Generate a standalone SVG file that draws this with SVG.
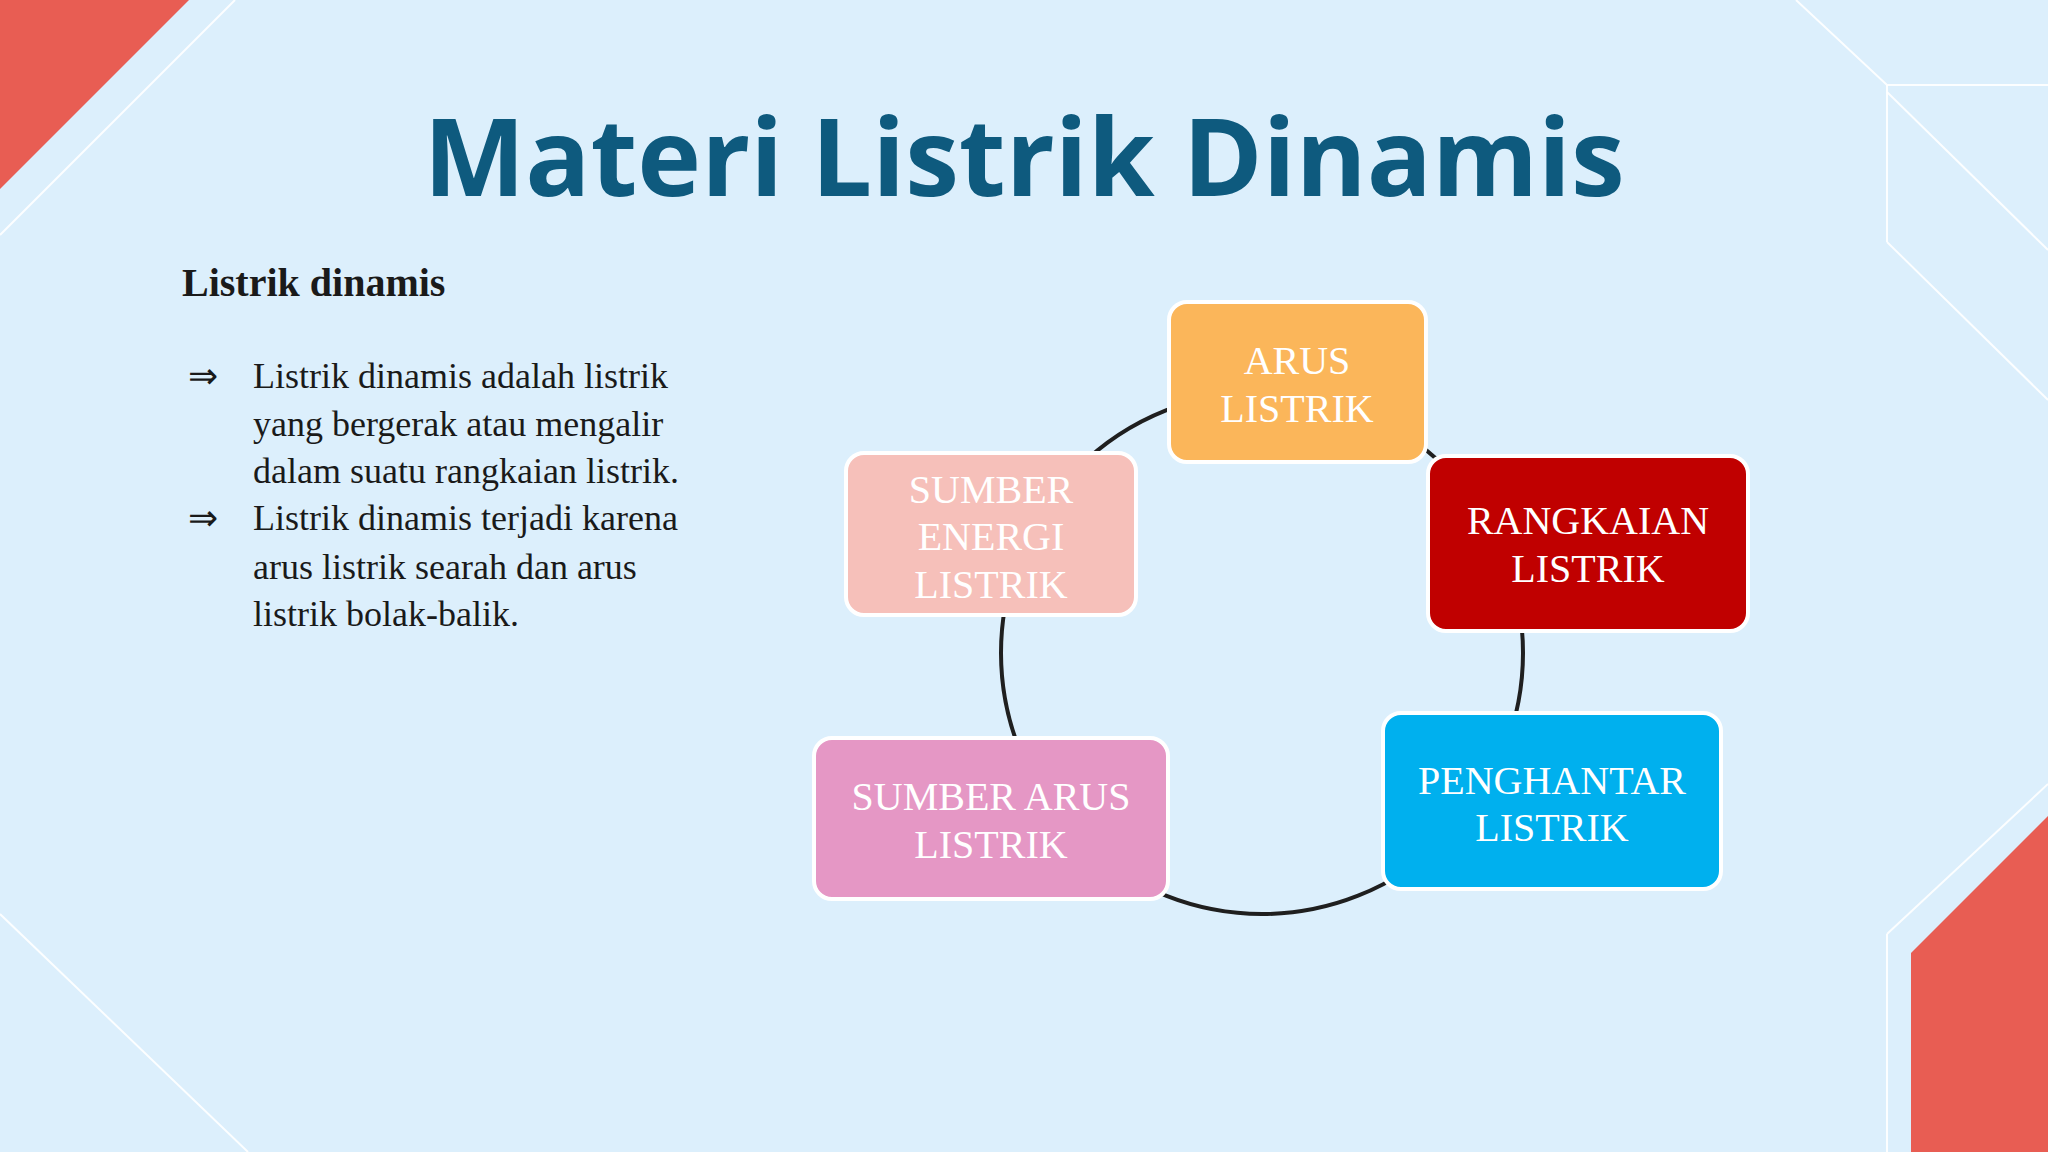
<svg xmlns="http://www.w3.org/2000/svg" width="2048" height="1152" viewBox="0 0 2048 1152">
<style>
.deco{stroke:#ffffff;stroke-width:2;fill:none;opacity:0.9}
.node{stroke:#ffffff;stroke-width:4}
.nt{font-family:"Liberation Serif",serif;font-size:40px;fill:#ffffff;text-anchor:middle}
.bt{font-family:"Liberation Serif",serif;font-size:36px;fill:#1a1a1a}
</style>
<rect width="2048" height="1152" fill="#DCEFFC"/>
<polygon points="0,0 189,0 0,189" fill="#E85D53"/>
<line class="deco" x1="235" y1="0" x2="0" y2="235"/>
<polyline class="deco" points="1796,0 1887,85 2048,85"/>
<line class="deco" x1="1887" y1="85" x2="1887" y2="242"/>
<line class="deco" x1="1887" y1="92" x2="2048" y2="250"/>
<line class="deco" x1="1887" y1="242" x2="2048" y2="400"/>
<polygon points="1911,953 2048,816 2048,1152 1911,1152" fill="#E85D53"/>
<line class="deco" x1="1887" y1="934" x2="1887" y2="1152"/>
<line class="deco" x1="1887" y1="934" x2="2048" y2="784"/>
<line class="deco" x1="0" y1="914" x2="248" y2="1152"/>
<text x="1024" y="196" font-family="'Open Sans','Noto Sans',sans-serif" font-weight="bold" font-size="108" fill="#0E5A7E" text-anchor="middle">Materi Listrik Dinamis</text>
<text x="182" y="296" font-family="'Liberation Serif',serif" font-weight="bold" font-size="40" fill="#1a1a1a">Listrik dinamis</text>
<g class="bt">
<text x="188" y="388">⇒</text>
<text x="253" y="388">Listrik dinamis adalah listrik</text>
<text x="253" y="436">yang bergerak atau mengalir</text>
<text x="253" y="483">dalam suatu rangkaian listrik.</text>
<text x="188" y="530">⇒</text>
<text x="253" y="530">Listrik dinamis terjadi karena</text>
<text x="253" y="579">arus listrik searah dan arus</text>
<text x="253" y="626">listrik bolak-balik.</text>
</g>
<g id="connectors">
<circle cx="1262" cy="653" r="261" fill="none" stroke="#1f1f1f" stroke-width="4"/>
</g>
<g id="arus">
<rect class="node" x="1169" y="302" width="257" height="160" rx="18" fill="#FBB65A"/>
<text class="nt" x="1297" y="374">ARUS</text><text class="nt" x="1297" y="422">LISTRIK</text>
</g>
<g id="rangkaian">
<rect class="node" x="1428" y="456" width="320" height="175" rx="18" fill="#C00000"/>
<text class="nt" x="1588" y="534">RANGKAIAN</text><text class="nt" x="1588" y="582">LISTRIK</text>
</g>
<g id="penghantar">
<rect class="node" x="1383" y="713" width="338" height="176" rx="18" fill="#00B0EE"/>
<text class="nt" x="1552" y="794">PENGHANTAR</text><text class="nt" x="1552" y="841">LISTRIK</text>
</g>
<g id="sumberarus">
<rect class="node" x="814" y="738" width="354" height="161" rx="18" fill="#E597C5"/>
<text class="nt" x="991" y="810">SUMBER ARUS</text><text class="nt" x="991" y="858">LISTRIK</text>
</g>
<g id="sumberenergi">
<rect class="node" x="846" y="453" width="290" height="162" rx="18" fill="#F6C0BA"/>
<text class="nt" x="991" y="503">SUMBER</text><text class="nt" x="991" y="550">ENERGI</text><text class="nt" x="991" y="598">LISTRIK</text>
</g>
</svg>
